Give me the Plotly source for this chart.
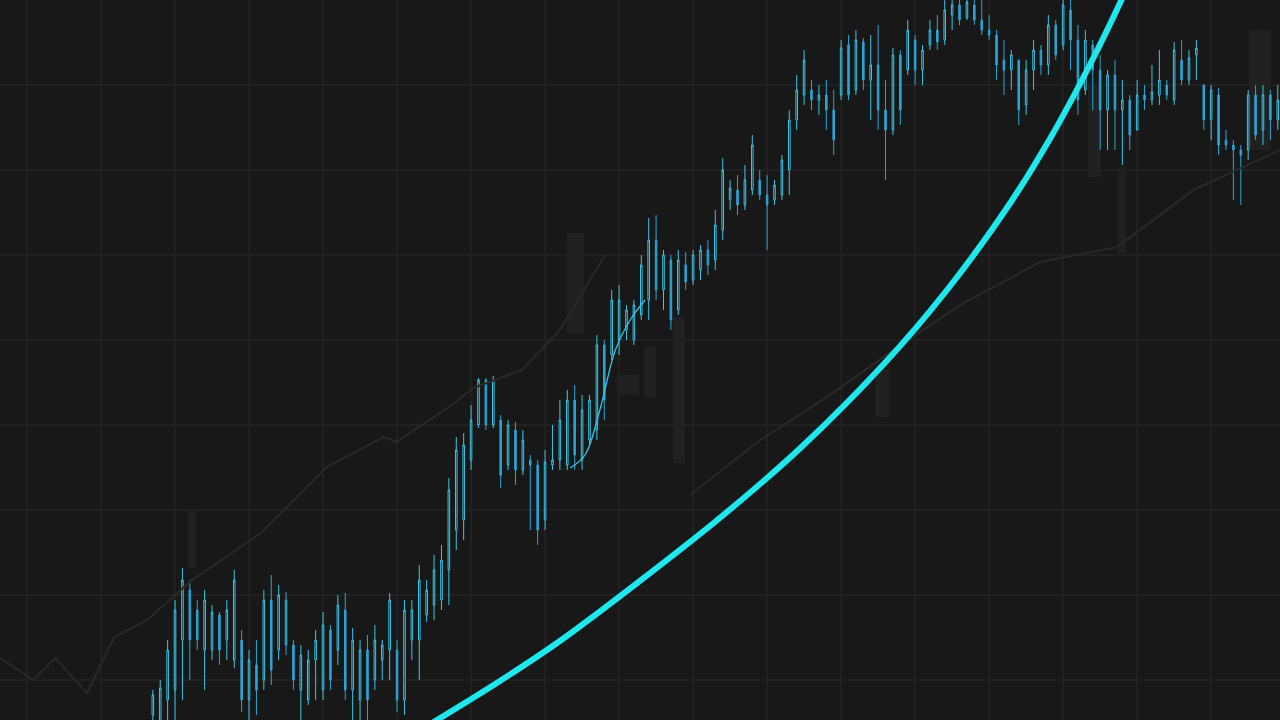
import plotly.graph_objects as go

# ---- candle series (index, price units) ----
idx = list(range(17, 170))
high = [30,40,80,120,152,140,120,130,115,108,120,150,90,70,80,130,145,135,128,80,
        75,70,90,108,95,125,127,92,80,85,95,80,127,80,120,120,155,140,165,175,
        242,283,287,315,342,342,344,305,300,298,290,265,260,270,295,320,330,335,325,325,
        385,380,430,435,415,420,465,502,505,470,465,470,468,470,475,480,510,562,540,545,
        555,585,550,545,540,565,610,645,670,640,635,640,630,680,685,690,682,685,695,640,
        672,670,700,685,675,700,705,720,730,725,730,725,720,705,690,680,670,660,660,680,
        675,705,700,725,720,695,690,680,665,650,660,640,625,640,635,655,670,640,678,680,
        670,680,635,635,632,590,580,575,630,635,635,630,635]
low = [-5,-5,-2,0,20,40,70,30,60,55,60,52,8,0,5,30,35,60,65,30,
       -2,15,20,20,30,55,20,-2,0,0,30,40,40,8,5,60,40,98,100,110,
       115,170,180,250,292,290,292,232,250,235,245,190,175,190,250,250,250,250,250,275,
       280,300,360,365,380,375,400,400,420,410,390,405,430,435,440,445,450,480,510,505,
       510,525,520,470,515,520,525,590,615,610,605,590,565,620,620,625,630,600,590,540,
       585,595,645,635,635,670,670,675,690,695,700,695,685,680,640,625,630,595,605,630,
       645,645,660,670,650,605,625,610,570,570,570,555,570,590,610,615,615,620,615,635,
       635,640,590,580,565,570,520,515,560,580,575,580,590]
open_ = [5,0,20,30,80,130,110,70,70,105,80,60,80,20,55,40,120,70,120,75,
         30,20,60,30,90,70,110,30,20,70,40,60,70,70,20,80,80,105,115,120,
         150,190,200,260,295,340,295,300,255,290,250,260,255,200,255,260,255,320,260,280,
         290,375,365,380,390,380,405,420,480,430,460,410,455,440,450,470,460,490,520,530,
         515,530,540,525,520,525,550,600,625,630,620,625,610,625,675,630,678,640,655,610,
         590,665,650,680,650,675,690,680,705,715,702,715,700,690,685,660,650,660,615,650,
         670,655,695,675,710,680,630,675,650,610,645,610,620,590,625,620,625,635,620,660,
         640,665,635,600,625,580,575,570,570,625,590,625,600]
close = [25,32,70,110,140,80,80,120,108,70,110,140,20,60,30,120,50,125,75,40,
         65,60,80,95,40,115,30,80,70,20,80,75,120,20,110,110,140,130,150,160,
         230,270,275,300,340,295,340,245,295,250,280,255,190,258,260,300,320,265,310,320,
         375,320,420,420,410,415,455,480,430,465,400,460,438,465,470,455,495,550,532,515,
         540,575,525,515,535,560,600,630,660,620,625,610,580,672,625,680,640,655,610,590,
         665,610,690,650,670,690,678,710,715,700,718,700,690,685,655,650,665,610,650,670,
         655,695,665,715,680,620,680,650,610,645,610,620,585,625,620,628,640,625,670,640,
         662,672,600,630,575,575,570,565,625,585,625,600,620]

# ---- faint background candles ----
ghost_x = [22.3, 74.1, 81.2, 84.2, 88.1, 115.5, 144.2, 147.9, 166.6]
ghost_lo = [153, 387, 325, 323, 257, 303, 543, 467, 570]
ghost_hi = [210, 487, 345, 373, 403, 350, 637, 553, 690]
ghost_w = [1.1, 2.2, 3.1, 1.6, 1.6, 1.9, 1.8, 1.1, 3.0]

# ---- faint average line ----
avg_x = [-3.65, 0.8, 3.8, 8.1, 11.8, 16.2, 22.3, 31.6, 40.5, 48.2, 49.9, 57.0, 60.3, 66.9, 72.0, 78.1,
         None,
         89.6, 99.1, 108.5, 118.0, 126.1, 136.9, 147.3, 157.6, 169.3]
avg_y = [62, 40, 62, 27, 83, 100, 140, 187, 253, 283, 278, 313, 332, 350, 390, 465,
         None,
         225, 280, 325, 375, 415, 458, 473, 530, 570]

# ---- thin cyan short curve ----
fast_x = [73.4, 75.4, 77.4, 79.5, 81.5, 83.5]
fast_y = [252, 265, 310, 370, 400, 420]

# ---- thick cyan trend curve ----
trend_x = [50.4, 55.4, 63.9, 72.0, 82.8, 93.6, 104.5, 115.9, 124.2, 132.4, 138.2, 143.6, 148.0, 150.4]
trend_y = [-22, 0, 39, 79, 139, 202, 272, 357, 429, 512, 581, 655, 722, 762]

BG = "#181818"
GRID = "#212121"
fig = go.Figure()

fig.add_trace(go.Bar(x=ghost_x, y=[h - l for h, l in zip(ghost_hi, ghost_lo)], base=ghost_lo,
                     width=ghost_w, marker=dict(color="#212121", line=dict(width=0)),
                     hoverinfo="skip", showlegend=False))

fig.add_trace(go.Scatter(x=avg_x, y=avg_y, mode="lines", line=dict(color="#292929", width=2.2),
                         connectgaps=False, hoverinfo="skip", showlegend=False))

fig.add_trace(go.Candlestick(x=idx, open=open_, high=high, low=low, close=close,
                             whiskerwidth=0,
                             increasing=dict(line=dict(color="#3cc6e6", width=1), fillcolor=BG),
                             decreasing=dict(line=dict(color="#2ba4d4", width=1), fillcolor="#2ba4d4"),
                             hoverinfo="skip", showlegend=False))

fig.add_trace(go.Scatter(x=fast_x, y=fast_y, mode="lines", line=dict(color="#36c4e4", width=1.3, shape="spline"),
                         hoverinfo="skip", showlegend=False))

fig.add_trace(go.Scatter(x=trend_x, y=trend_y, mode="lines",
                         line=dict(color="#1ee8ee", width=6, shape="spline", smoothing=1.0),
                         hoverinfo="skip", showlegend=False))

fig.update_layout(
    width=1280, height=720, margin=dict(l=0, r=0, t=0, b=0),
    paper_bgcolor=BG, plot_bgcolor=BG, boxgap=0.7, bargap=0,
    showlegend=False,
    xaxis=dict(range=[-3.65, 169.3], tick0=0, dtick=10, showgrid=True, gridcolor=GRID,
               gridwidth=1.5, zeroline=False, showticklabels=False, rangeslider=dict(visible=False),
               fixedrange=True),
    yaxis=dict(range=[0, 720], tick0=40, dtick=85, showgrid=True, gridcolor=GRID,
               gridwidth=1.5, zeroline=False, showticklabels=False, fixedrange=True),
)

fig.write_html("out.html", config={"displayModeBar": False},
               post_script="document.body.style.margin='0';document.body.style.background='#181818';")
